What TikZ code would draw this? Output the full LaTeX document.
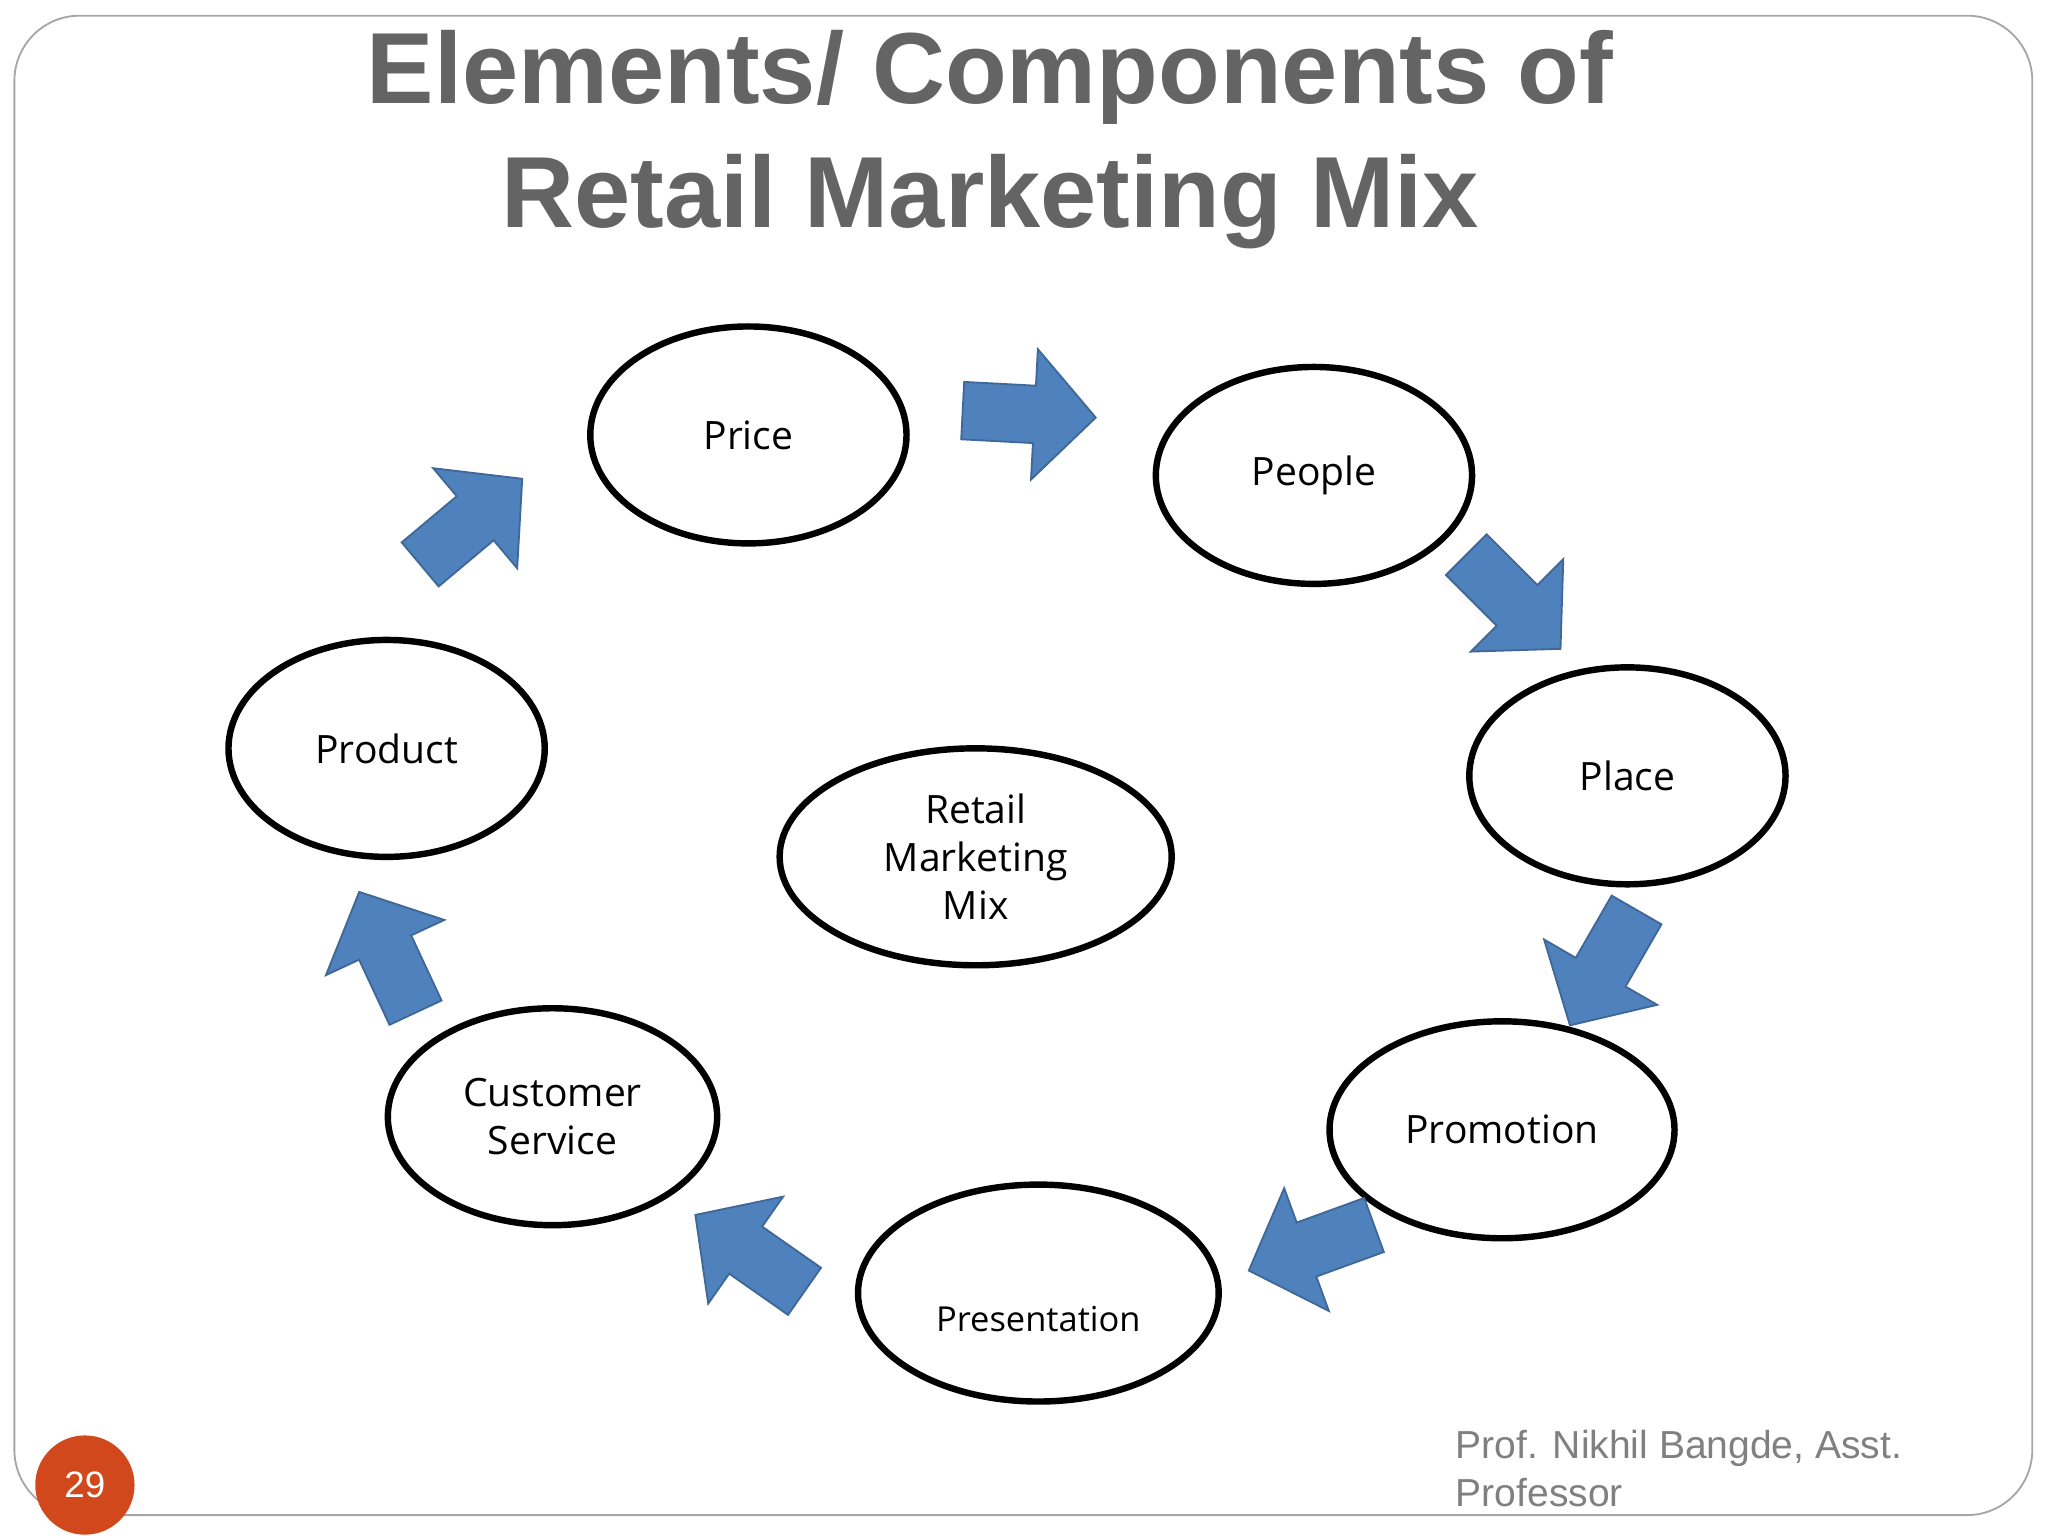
\documentclass[tikz,border=0pt]{standalone}
\usepackage{fontspec}
\setmainfont{Liberation Sans}
\newfontfamily\nodefont{Open Sans}
\usetikzlibrary{shapes.geometric}
\begin{document}
\begin{tikzpicture}[x=0.01cm,y=-0.01cm,
  el/.style={draw,line width=1.4pt,ellipse,minimum width=2.42cm,minimum height=1.66cm,inner sep=0pt,font=\nodefont\fontsize{8.5}{10.5}\selectfont,align=center},
  barrow/.style={fill=arrowblue,draw=arrowblue!80!black,thin}]
\definecolor{arrowblue}{RGB}{79,129,189}
\definecolor{titlegray}{RGB}{100,100,100}
\definecolor{pgorange}{RGB}{208,72,28}
\useasboundingbox (0,0) rectangle (1568,1176);
\fill[white] (0,0) rectangle (1568,1176);
\draw[gray!70,rounded corners=0.5cm] (11,12) rectangle (1556,1160);
\node[font=\bfseries\fontsize{22}{27}\selectfont,text=titlegray,align=center] (title) at (758,107) {Elements/ Components of\\Retail Marketing Mix};
\node[el] (price) at (573,333) {Price};
\node[el] (people) at (1006,364) {People};
\node[el] (place) at (1246,594) {Place};
\node[el,minimum width=2.64cm] (promo) at (1150,865) {Promotion};
\node[el,minimum width=2.76cm] (pres) at (795,990) {};
\node[font=\nodefont\fontsize{7.5}{9}\selectfont] (prestext) at (795,1010) {Presentation};
\node[el,minimum width=2.52cm] (cust) at (423,855) {Customer\\Service};
\node[el] (prod) at (296,573) {Product};
\node[el,minimum width=3.0cm] (mix) at (747,656) {Retail\\Marketing\\Mix};
\foreach \cx/\cy/\ang in {360/400/40, 787/317/-3, 1158/460/-45, 1228/740/-120, 1005/955/-160, 575/960/145, 297/730/115}{
  \fill[barrow,shift={(\cx,\cy)},rotate=\ang] (-50,-22) -- (5,-22) -- (5,-50) -- (52,0) -- (5,50) -- (5,22) -- (-50,22) -- cycle;
}
\fill[pgorange] (65,1137) circle (38);
\node[text=white,font=\fontsize{8}{10}\selectfont] (pg) at (65,1137) {29};
\node[anchor=north west,text=gray,font=\fontsize{8.5}{10.5}\selectfont,align=left,inner sep=0pt] (foot) at (1114,1094) {Prof. Nikhil Bangde, Asst.\\Professor};
\end{tikzpicture}
\end{document}
